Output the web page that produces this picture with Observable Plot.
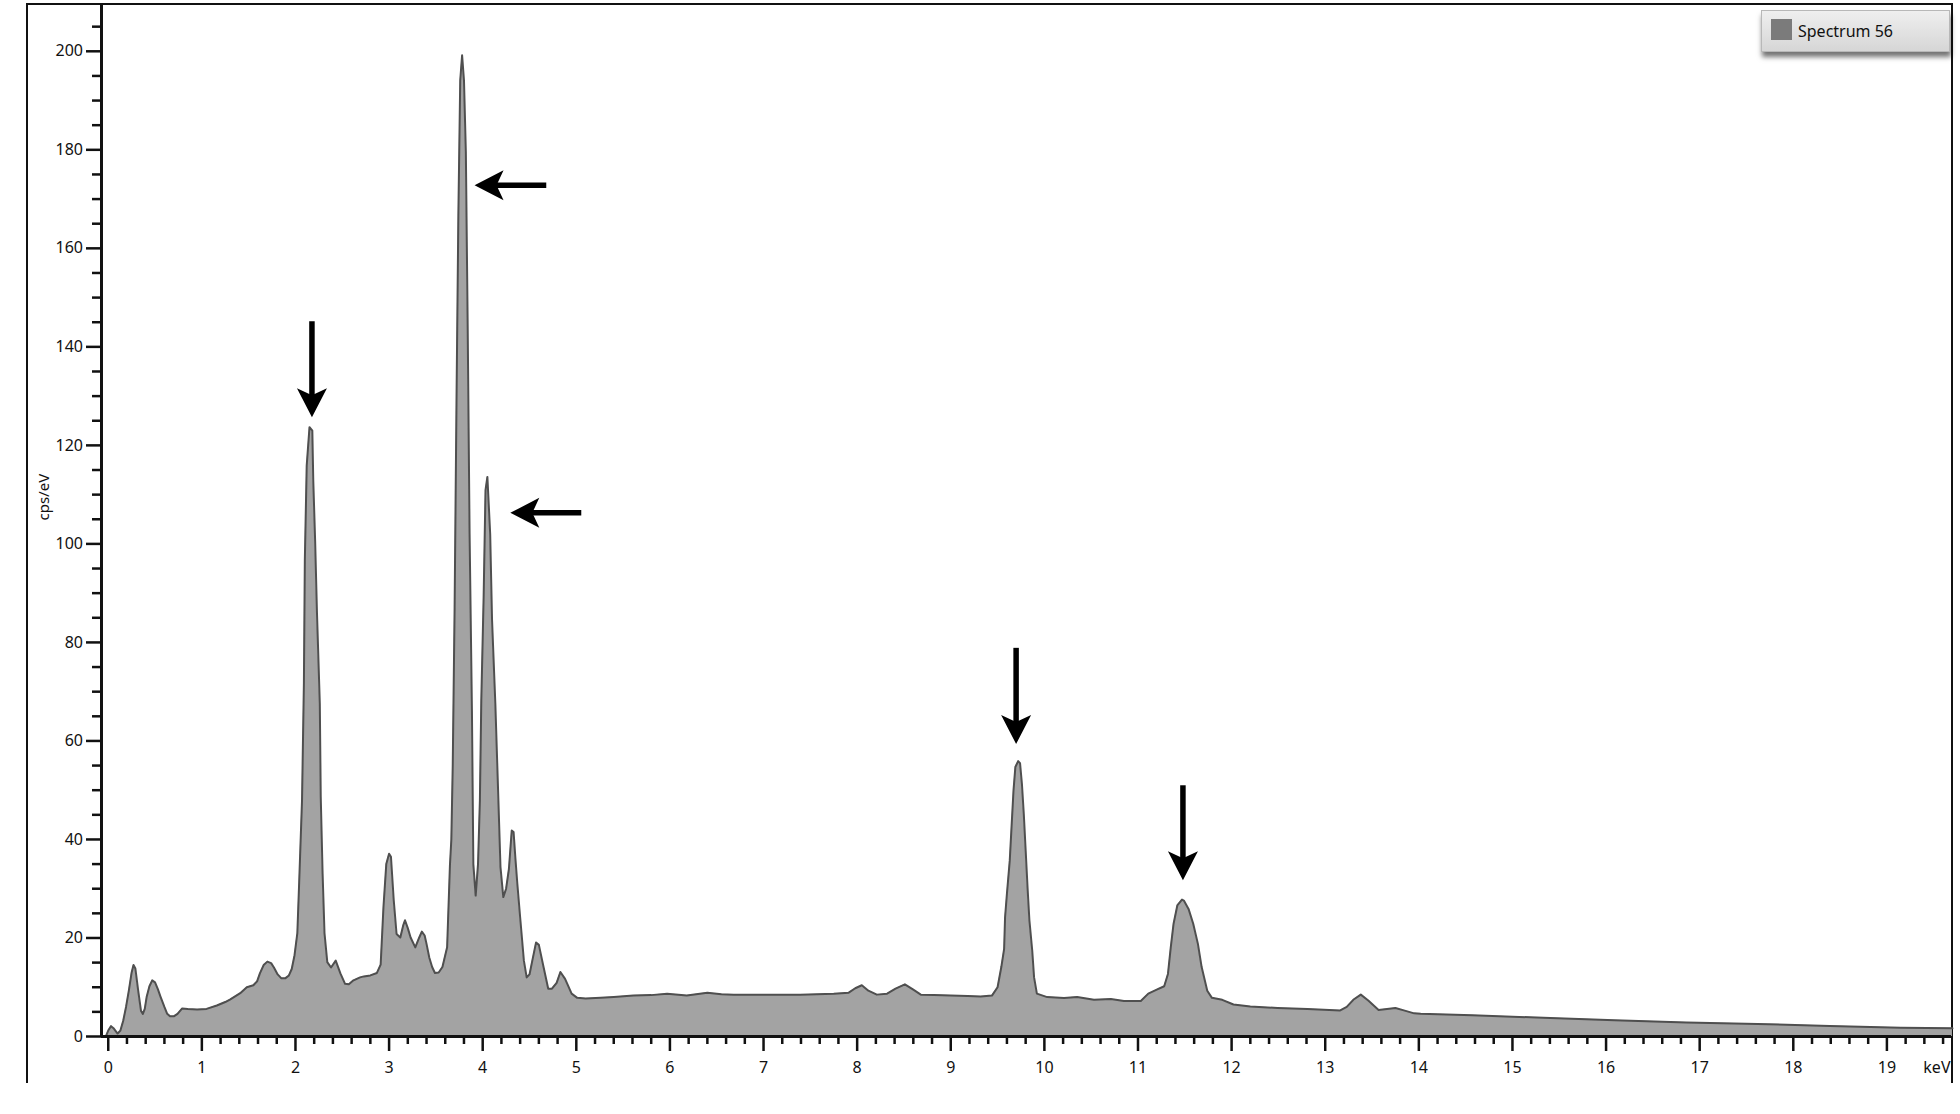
<!DOCTYPE html>
<html>
<head>
<meta charset="utf-8">
<script src="https://cdn.jsdelivr.net/npm/d3@7"></script>
<script src="https://cdn.jsdelivr.net/npm/@observablehq/plot@0.6"></script>
<style>
  html, body { margin: 0; padding: 0; background: #fff; overflow: hidden; }
  #wrap { position: relative; width: 1960px; height: 1114px; }
  #chart { position: absolute; left: 0; top: 0; }
  #frame { position: absolute; left: 26px; top: 3px; width: 1923px; height: 1078px;
           border-left: 2px solid #111; border-top: 2px solid #111; border-right: 2px solid #111; }
  #legend { position: absolute; left: 1761px; top: 10px; width: 187px; height: 40px;
            background: linear-gradient(#efefef, #d6d6d6); border: 1px solid #b8b8b8;
            box-shadow: 1px 5px 5px rgba(0,0,0,0.55); font-family: "Noto Sans", sans-serif; }
  #legend .sw { position: absolute; left: 9px; top: 8px; width: 21px; height: 21px; background: #7b7b7b; }
  #legend .lb { position: absolute; left: 36px; top: 9px; font-size: 16px; color: #111; line-height: 22px; }
</style>
</head>
<body>
<div id="wrap">
  <div id="frame"></div>
  <div id="chart"></div>
  <div id="legend"><div class="sw"></div><div class="lb">Spectrum 56</div></div>
</div>
<script>
// Energy (keV) and counts (cps/eV)
const energy = [
  -0.02, 0.00, 0.03, 0.06, 0.10, 0.13, 0.16, 0.19, 0.22, 0.25, 0.27, 0.29, 0.32, 0.35, 0.37, 0.39,
  0.41, 0.44, 0.47, 0.50, 0.53, 0.56, 0.60, 0.63, 0.66, 0.70, 0.74, 0.79, 0.85, 0.95, 1.05, 1.16,
  1.25, 1.30, 1.41, 1.48, 1.55, 1.59, 1.62, 1.66, 1.70, 1.74, 1.77, 1.81, 1.85, 1.89, 1.93, 1.96,
  1.99, 2.02, 2.04, 2.07, 2.09, 2.10, 2.12, 2.15, 2.18, 2.19, 2.21, 2.23, 2.26, 2.27, 2.29, 2.31,
  2.34, 2.38, 2.43, 2.48, 2.53, 2.57, 2.62, 2.69, 2.73, 2.80, 2.87, 2.91, 2.94, 2.97, 3.00, 3.02,
  3.05, 3.08, 3.12, 3.15, 3.17, 3.20, 3.23, 3.28, 3.32, 3.35, 3.38, 3.40, 3.43, 3.46, 3.49, 3.53,
  3.57, 3.62, 3.65, 3.665, 3.68, 3.70, 3.72, 3.74, 3.76, 3.78, 3.80, 3.82, 3.84, 3.86, 3.885, 3.90,
  3.925, 3.95, 3.97, 3.985, 4.01, 4.03, 4.05, 4.08, 4.10, 4.135, 4.16, 4.19, 4.22, 4.25, 4.28, 4.31,
  4.33, 4.35, 4.37, 4.40, 4.44, 4.47, 4.50, 4.53, 4.57, 4.60, 4.65, 4.70, 4.74, 4.79, 4.83, 4.88,
  4.95, 5.01, 5.10, 5.26, 5.40, 5.61, 5.80, 5.97, 6.18, 6.40, 6.55, 6.68, 7.04, 7.39, 7.75, 7.91,
  7.98, 8.05, 8.12, 8.21, 8.32, 8.41, 8.51, 8.60, 8.68, 8.82, 9.00, 9.18, 9.32, 9.44, 9.50, 9.54,
  9.57, 9.58, 9.60, 9.63, 9.65, 9.67, 9.69, 9.72, 9.74, 9.76, 9.78, 9.80, 9.82, 9.84, 9.87, 9.89,
  9.92, 10.03, 10.21, 10.35, 10.53, 10.71, 10.85, 11.03, 11.11, 11.20, 11.28, 11.32, 11.35, 11.38, 11.42, 11.47,
  11.49, 11.54, 11.59, 11.64, 11.68, 11.74, 11.79, 11.90, 12.02, 12.20, 12.49, 12.81, 13.16, 13.23, 13.30, 13.38,
  13.46, 13.57, 13.66, 13.75, 13.84, 13.95, 14.02, 14.57, 15.33, 16.09, 16.86, 17.62, 18.39, 19.15, 19.70
];
const counts = [
  0.3, 1.2, 2.1, 1.6, 0.6, 1.2, 3.2, 6.0, 9.3, 13.0, 14.5, 13.8, 9.3, 5.2, 4.6, 5.6,
  8.0, 10.2, 11.4, 11.0, 9.6, 8.0, 6.0, 4.6, 4.1, 4.1, 4.6, 5.7, 5.6, 5.5, 5.6, 6.3,
  7.0, 7.5, 8.8, 10.0, 10.4, 11.2, 12.8, 14.5, 15.2, 14.9, 14.0, 12.6, 11.8, 11.8, 12.4, 13.7,
  16.5, 21.0, 31.5, 47.9, 71.6, 96.6, 115.9, 123.7, 123.0, 112.9, 100.7, 85.8, 67.6, 48.6, 33.0, 21.0,
  15.1, 14.0, 15.4, 12.8, 10.7, 10.6, 11.4, 12.0, 12.2, 12.4, 12.9, 14.6, 26.3, 35.0, 37.1, 36.5,
  27.6, 20.8, 20.1, 22.5, 23.6, 22.0, 20.1, 18.1, 20.0, 21.3, 20.5, 18.8, 16.0, 14.1, 12.9, 13.0,
  14.1, 18.1, 34.7, 40.0, 55.0, 87.0, 128.5, 166.7, 194.1, 199.2, 194.1, 179.6, 143.4, 102.0, 66.2, 35.0,
  28.6, 35.0, 47.9, 68.2, 89.2, 110.9, 113.6, 102.0, 84.5, 67.6, 52.6, 34.4, 28.3, 30.0, 34.0, 41.8,
  41.5, 36.0, 31.0, 24.2, 15.4, 12.0, 12.6, 15.4, 19.1, 18.6, 14.1, 9.7, 9.7, 10.9, 13.1, 11.7,
  8.7, 7.85, 7.7, 7.85, 8.0, 8.3, 8.4, 8.7, 8.3, 8.9, 8.6, 8.5, 8.5, 8.5, 8.7, 8.9,
  9.8, 10.4, 9.3, 8.5, 8.7, 9.7, 10.6, 9.5, 8.5, 8.4, 8.3, 8.2, 8.1, 8.3, 10.0, 14.1,
  17.8, 24.2, 29.0, 35.7, 42.8, 49.9, 54.7, 55.9, 55.5, 51.3, 45.2, 37.8, 30.3, 23.6, 17.5, 12.0,
  8.7, 8.0, 7.8, 8.0, 7.45, 7.6, 7.2, 7.2, 8.7, 9.5, 10.2, 12.7, 18.1, 22.9, 26.6, 27.8,
  27.6, 25.9, 22.9, 18.8, 14.1, 9.3, 7.85, 7.45, 6.5, 6.1, 5.8, 5.6, 5.3, 6.0, 7.45, 8.5,
  7.3, 5.4, 5.6, 5.8, 5.3, 4.7, 4.6, 4.3, 3.8, 3.3, 2.85, 2.55, 2.15, 1.8, 1.65
];

// Axis ticks
const xMajorTicks = [0,1,2,3,4,5,6,7,8,9,10,11,12,13,14,15,16,17,18,19];
const xMinorTicks = d3.range(0, 19.7, 0.2).filter(v => Math.abs(v - Math.round(v)) > 0.01);
const yMajorTicks = [0,20,40,60,80,100,120,140,160,180,200];
const yMinorTicks = d3.range(5, 209, 5).filter(v => v % 20 !== 0);

// Annotation arrows (tail -> tip), in data units
const arrowX1 = [2.176, 4.679, 5.053, 9.698, 11.48];
const arrowY1 = [145.2, 172.8, 106.3, 78.9, 51.0];
const arrowX2 = [2.176, 3.913, 4.295, 9.698, 11.48];
const arrowY2 = [125.7, 172.8, 106.3, 59.4, 31.7];
const arrowRot = [90, 180, 180, 90, 90];

const xDomain = [-0.072, 19.69];
const yDomain = [0, 209.5];

const spectrum = energy.map((e, i) => ({e, c: counts[i]}));
const arrows = arrowX1.map((x1, i) => ({x1, y1: arrowY1[i], x2: arrowX2[i], y2: arrowY2[i], rot: arrowRot[i]}));

const arrowHead = {
  draw(context) {
    context.moveTo(0, 0);
    context.lineTo(-29, -15);
    context.lineTo(-22, 0);
    context.lineTo(-29, 15);
    context.closePath();
  }
};

const font = "Noto Sans, sans-serif";

const chart = Plot.plot({
  width: 1960,
  height: 1114,
  marginLeft: 101,
  marginRight: 9,
  marginTop: 4,
  marginBottom: 78,
  x: {domain: xDomain},
  y: {domain: yDomain},
  style: {fontFamily: font, fontSize: "16px", color: "#111", background: "transparent", overflow: "visible"},
  marks: [
    Plot.areaY(spectrum, {x: "e", y: "c", fill: "#a3a3a3", curve: "linear"}),
    Plot.lineY(spectrum, {x: "e", y: "c", stroke: "#4f4f4f", strokeWidth: 2, curve: "linear"}),
    Plot.axisY({ticks: yMajorTicks, tickSize: 15, tickPadding: 3.5, strokeWidth: 2.5, fontSize: 16, label: null, stroke: "#111"}),
    Plot.axisY({ticks: yMinorTicks, tickSize: 9, tickFormat: () => "", strokeWidth: 2.5, label: null, stroke: "#111"}),
    Plot.axisX({ticks: xMajorTicks, tickSize: 15, tickPadding: 10, strokeWidth: 2.5, fontSize: 16, label: null, stroke: "#111"}),
    Plot.axisX({ticks: xMinorTicks, tickSize: 8, tickFormat: () => "", strokeWidth: 2.5, label: null, stroke: "#111"}),
    Plot.ruleX([xDomain[0]], {stroke: "#111", strokeWidth: 3}),
    Plot.ruleY([0], {stroke: "#111", strokeWidth: 3}),
    Plot.text(["keV"], {frameAnchor: "bottom-right", dx: -1, dy: 25, lineAnchor: "top", textAnchor: "end", fontSize: 16, fill: "#111"}),
    Plot.text(["cps/eV"], {frameAnchor: "left", dx: -57, rotate: -90, fontSize: 15, fill: "#111"}),
    Plot.arrow(arrows, {x1: "x1", y1: "y1", x2: "x2", y2: "y2", stroke: "black", strokeWidth: 5.5, headLength: 0, insetEnd: 18, strokeLinecap: "butt"}),
    Plot.dot(arrows, {x: "x2", y: "y2", symbol: arrowHead, rotate: "rot", fill: "black", stroke: "none", r: 10})
  ]
});
document.getElementById("chart").appendChild(chart);
</script>
</body>
</html>
